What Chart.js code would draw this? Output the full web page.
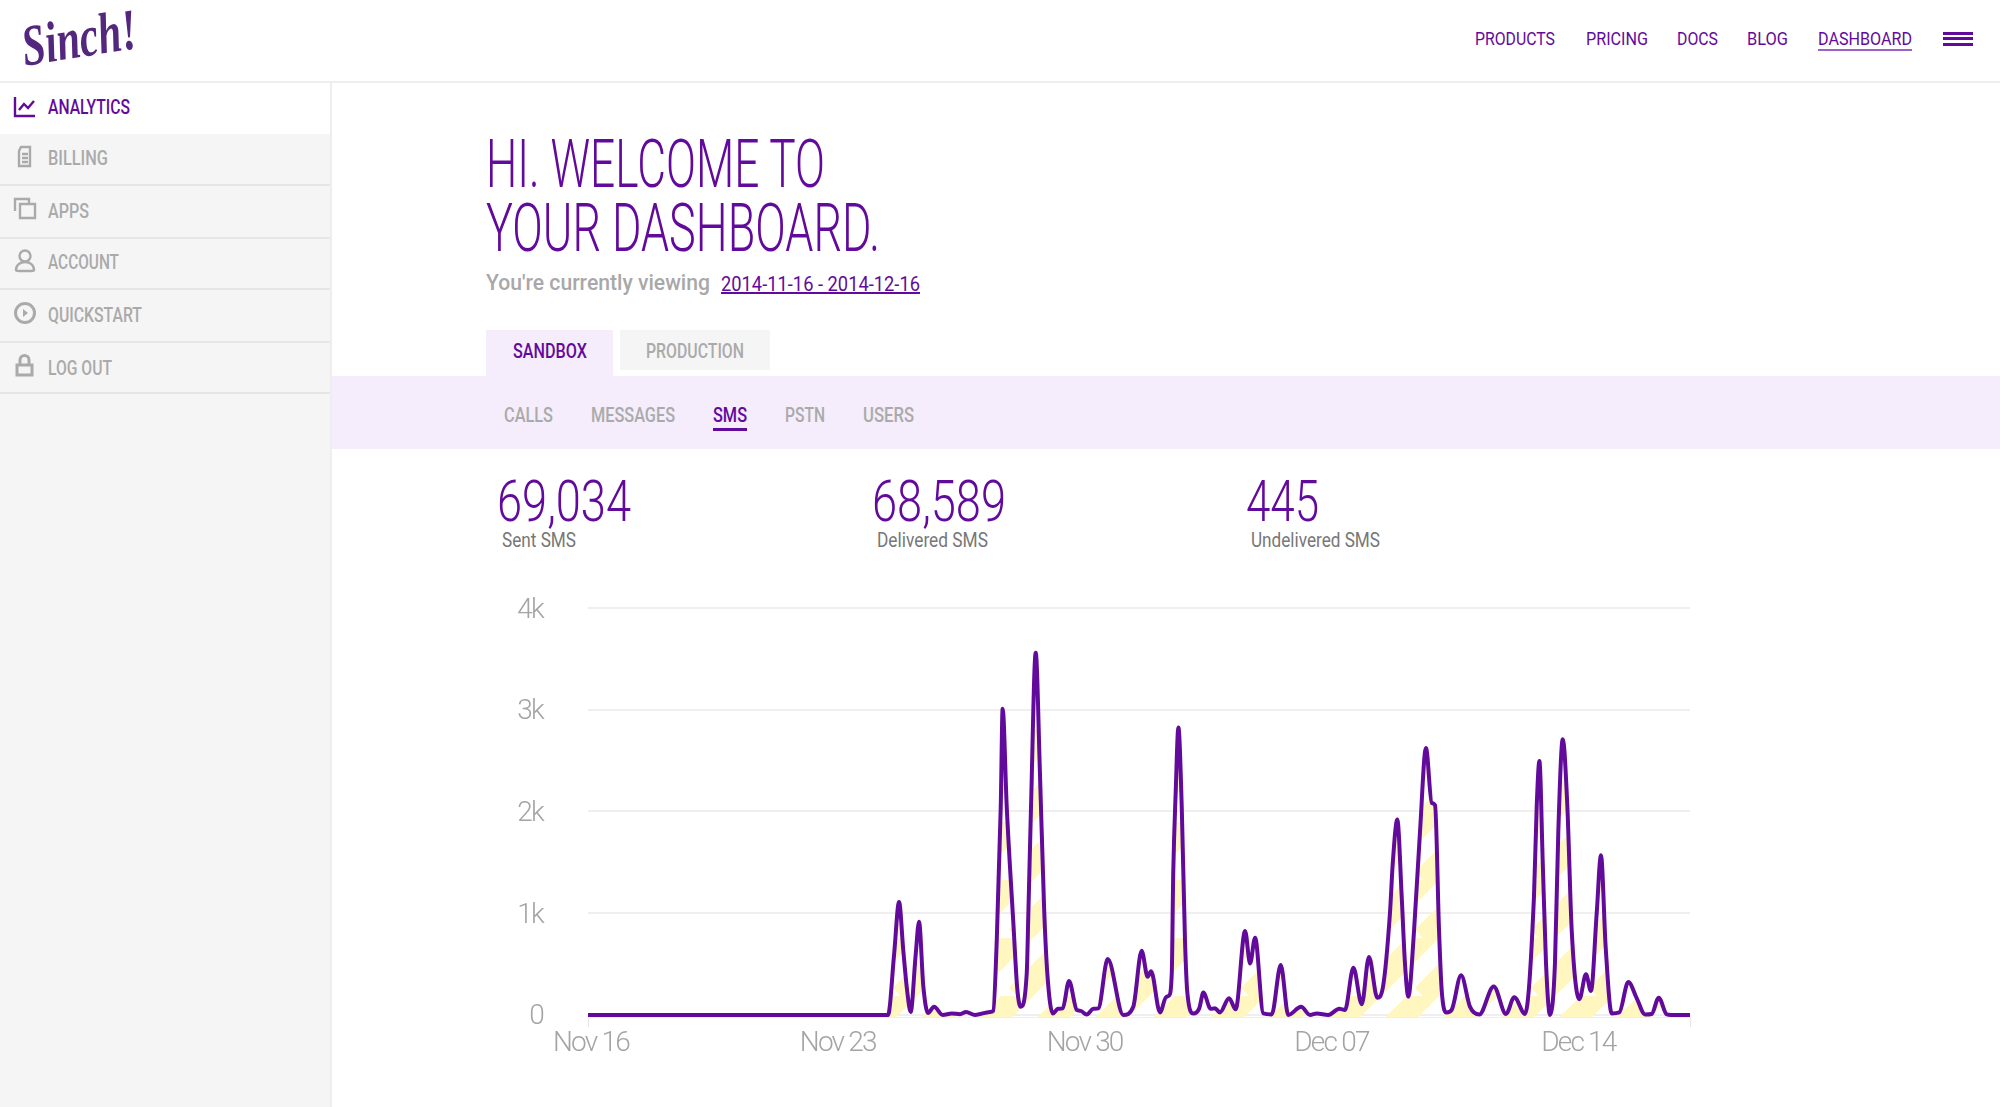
<!DOCTYPE html>
<html>
<head>
<meta charset="utf-8">
<title>Dashboard</title>
<script src="https://cdn.jsdelivr.net/npm/chart.js@4"></script>
<style>
html, body { margin: 0; padding: 0; background: #fff; }
body { width: 2000px; height: 1107px; position: relative; overflow: hidden; font-family: Roboto, sans-serif; color: #aaa; }
.t { position: absolute; white-space: nowrap; transform-origin: 0 50%; line-height: 1; }
.box { position: absolute; }
.p { color: #620a9c; }
.g { color: #aaa; }
svg { position: absolute; fill: none; stroke: #aaa; stroke-width: 2.4; }
#chartBox { position: absolute; left: 480px; top: 590px; width: 1240px; height: 480px; }
</style>
</head>
<body>
<div class="box" style="left:0;top:0;width:2000px;height:81px;border-bottom:2px solid #eee"></div>
<div class="box" style="left:0;top:83px;width:330px;height:1024px;background:#f5f5f5;border-right:2px solid #eee"></div>
<div class="box" style="left:0;top:83px;width:330px;height:51px;background:#fff"></div>
<div class="box" style="left:0;top:184px;width:330px;height:2px;background:#e6e6e6"></div>
<div class="box" style="left:0;top:237px;width:330px;height:2px;background:#e6e6e6"></div>
<div class="box" style="left:0;top:288px;width:330px;height:2px;background:#e6e6e6"></div>
<div class="box" style="left:0;top:341px;width:330px;height:2px;background:#e6e6e6"></div>
<div class="box" style="left:0;top:392px;width:330px;height:2px;background:#e6e6e6"></div>

<span class="t" data-w="116" style="left:22px;top:13px;font:italic bold 58px 'Liberation Serif';color:#54277f;--r:-9deg">Sinch!</span>

<span class="t p" data-w="80" style="left:1475px;top:29px;font-size:19px">PRODUCTS</span>
<span class="t p" data-w="62" style="left:1586px;top:29px;font-size:19px">PRICING</span>
<span class="t p" data-w="41" style="left:1677px;top:29px;font-size:19px">DOCS</span>
<span class="t p" data-w="41" style="left:1747px;top:29px;font-size:19px">BLOG</span>
<span class="t p" data-w="94" style="left:1818px;top:29px;font-size:19px">DASHBOARD</span>
<div class="box" style="left:1818px;top:49px;width:94px;height:2px;background:#9c62c6"></div>
<div class="box" style="left:1943px;top:32px;width:30px;height:3px;background:#620a9c"></div>
<div class="box" style="left:1943px;top:37px;width:30px;height:3px;background:#620a9c"></div>
<div class="box" style="left:1943px;top:43px;width:30px;height:3px;background:#620a9c"></div>

<svg style="left:13px;top:95px;stroke:#620a9c" width="24" height="24"><path d="M2 2V21H22M6 15l5-6 4 4 6-7"/></svg>
<span class="t p" data-w="82" style="left:48px;top:97px;font-size:21px;font-weight:500">ANALYTICS</span>
<svg style="left:16px;top:145px" width="18" height="24"><path d="M5 2h9v19H3V6zM6 9h6M6 13h6M6 17h6"/></svg>
<span class="t g" data-w="60" style="left:48px;top:148px;font-size:21px;font-weight:500">BILLING</span>
<svg style="left:13px;top:197px" width="24" height="24"><path d="M2 14V2h14v4M7 7h15v14H7z"/></svg>
<span class="t g" data-w="41" style="left:48px;top:201px;font-size:21px;font-weight:500">APPS</span>
<svg style="left:14px;top:249px" width="22" height="24"><circle cx="11" cy="7" r="5.5"/><path d="M2 21c0-5 4-8 9-8s9 3 9 8c0 1-2 1-3 1H5c-1 0-3 0-3-1z"/></svg>
<span class="t g" data-w="71" style="left:48px;top:252px;font-size:21px;font-weight:500">ACCOUNT</span>
<svg style="left:13px;top:301px;stroke-width:3" width="24" height="24"><circle cx="12" cy="12" r="9.5"/><path d="M10 8l5 4-5 4z" fill="#aaa" stroke="none"/></svg>
<span class="t g" data-w="94" style="left:48px;top:305px;font-size:21px;font-weight:500">QUICKSTART</span>
<svg style="left:15px;top:354px;stroke-width:3" width="20" height="24"><path d="M2 11h15v10H2zM5 11V6c0-6 9-6 9 0v5"/></svg>
<span class="t g" data-w="64" style="left:48px;top:358px;font-size:21px;font-weight:500">LOG OUT</span>

<span class="t p" data-w="339" style="left:486px;top:132px;font-size:66px;font-weight:340">HI. WELCOME TO</span>
<span class="t p" data-w="394" style="left:486px;top:196px;font-size:66px;font-weight:340">YOUR DASHBOARD.</span>
<span class="t" data-w="224" style="left:486px;top:272px;font-size:22px;font-weight:500;color:#a8a8a8">You're currently viewing</span>
<span class="t p" data-w="199" style="left:721px;top:274px;font-size:20px;text-decoration:underline">2014-11-16 - 2014-12-16</span>

<div class="box" style="left:486px;top:330px;width:127px;height:46px;background:#f5edfb"></div>
<div class="box" style="left:620px;top:330px;width:150px;height:40px;background:#f5f5f5"></div>
<span class="t p" data-w="74" style="left:513px;top:341px;font-size:21px;font-weight:500">SANDBOX</span>
<span class="t g" data-w="98" style="left:646px;top:341px;font-size:21px;font-weight:500">PRODUCTION</span>
<div class="box" style="left:332px;top:376px;width:1668px;height:73px;background:#f5edfb"></div>
<span class="t g" data-w="49" style="left:504px;top:405px;font-size:21px;font-weight:500">CALLS</span>
<span class="t g" data-w="84" style="left:591px;top:405px;font-size:21px;font-weight:500">MESSAGES</span>
<span class="t p" data-w="34" style="left:713px;top:405px;font-size:21px;font-weight:500">SMS</span>
<div class="box" style="left:713px;top:428px;width:34px;height:3px;background:#620a9c"></div>
<span class="t g" data-w="40" style="left:785px;top:405px;font-size:21px;font-weight:500">PSTN</span>
<span class="t g" data-w="51" style="left:863px;top:405px;font-size:21px;font-weight:500">USERS</span>

<span class="t p" data-w="134" style="left:497px;top:472px;font-size:58px;font-weight:340">69,034</span>
<span class="t" data-w="74" style="left:502px;top:530px;font-size:20px;color:#777">Sent SMS</span>
<span class="t p" data-w="134" style="left:872px;top:472px;font-size:58px;font-weight:340">68,589</span>
<span class="t" data-w="111" style="left:877px;top:530px;font-size:20px;color:#777">Delivered SMS</span>
<span class="t p" data-w="73" style="left:1246px;top:472px;font-size:58px;font-weight:340">445</span>
<span class="t" data-w="129" style="left:1251px;top:530px;font-size:20px;color:#777">Undelivered SMS</span>

<div id="chartBox"><canvas id="smsChart" width="1240" height="480"></canvas></div>

<script>
// hours since the start of Nov 16
const smsHours = [0, 204.2, 208.3, 211.7, 214.6, 217.3, 219.6, 223, 225.3, 228.2, 231.4, 235.5, 241.4, 247.5, 253.2, 257.3, 263.4, 273.6, 275.8, 278.2, 280.9, 282.2, 285, 289.5, 292.2, 294.5, 298.6, 299.7, 301.5, 304.7, 307.6, 310.4, 312.6, 316.3, 319.9, 323.1, 327.4, 332.6, 335.3, 339.4, 343.9, 347.3, 353.7, 364.3, 371.1, 376.8, 380.9, 383.2, 389.3, 393.4, 395.4, 397.3, 398.3, 400, 401.8, 404.1, 406.3, 407.9, 412, 416, 418.8, 423.8, 426.7, 430.1, 436.3, 440.8, 447.2, 450.6, 454, 459.6, 465.3, 471.5, 476.6, 485.3, 491.4, 496, 503.8, 511.3, 515.2, 520.9, 526.6, 531.5, 537.2, 541.1, 545.8, 547.7, 550.8, 553.8, 556, 558.3, 562.2, 566.3, 570.3, 574.2, 576.5, 579.2, 581, 584.4, 587.8, 594.2, 600.3, 606.6, 616.4, 624.8, 630.4, 637.7, 643.8, 645.7, 647.5, 649.8, 652, 654.7, 658.1, 660.4, 663.4, 666.5, 669.5, 674.7, 679.2, 682.6, 686.5, 689.4, 692.6, 696.7, 701.9, 708, 713.7, 719.4, 723.9, 728.7, 734.2, 737, 750];
const smsValues = [0, 0, 590, 1110, 630, 225, 30, 590, 915, 285, 20, 80, 0, 15, 8, 30, 0, 30, 40, 735, 2040, 3010, 2040, 900, 250, 80, 410, 1000, 2040, 3560, 2370, 1060, 410, 15, 60, 65, 335, 50, 40, 5, 60, 65, 550, 0, 80, 630, 375, 430, 25, 175, 190, 410, 1390, 2200, 2825, 2040, 735, 220, 15, 65, 220, 60, 65, 25, 165, 55, 825, 505, 760, 15, 5, 490, 0, 80, 0, 15, 0, 60, 50, 465, 105, 570, 170, 280, 1000, 1490, 1920, 1160, 510, 180, 830, 1815, 2625, 2085, 2060, 830, 245, 25, 50, 390, 80, 5, 280, 10, 175, 10, 1160, 2060, 2495, 1490, 510, 0, 510, 1815, 2710, 2060, 830, 155, 400, 235, 1000, 1570, 670, 15, 25, 325, 165, 5, 10, 170, 5, 0, 0];
const yTickValues = [0, 1000, 2000, 3000, 4000];
const yTickLabels = ['0', '1k', '2k', '3k', '4k'];
const xTickHours = [0, 2, 170, 338, 506, 674, 750];
const xTickLabels = ['', 'Nov 16', 'Nov 23', 'Nov 30', 'Dec 07', 'Dec 14', ''];

const tickFont = { family: 'Roboto', size: 28, weight: 300 };

// squeeze the html labels to the measured widths
document.querySelectorAll('.t').forEach((el) => {
    const w = el.getBoundingClientRect().width;
    const r = el.style.getPropertyValue('--r');
    el.style.transform = (r ? 'rotate(' + r + ') ' : '') + 'scaleX(' + (+el.dataset.w / w) + ')';
});

const createStripes = (ctx) => {
    const size = 58;
    const tile = document.createElement('canvas');
    tile.width = size;
    tile.height = size;
    const t = tile.getContext('2d');
    t.strokeStyle = '#fff6c0';
    t.lineWidth = 23;
    [-43, 15, 73, 131].forEach((c) => {
        t.beginPath();
        t.moveTo(c + size, -size);
        t.lineTo(c - size, size);
        t.stroke();
    });
    return ctx.createPattern(tile, 'repeat');
};

// tighter tick text, no condensed face is installed
const tightText = {
    id: 'tightText',
    beforeUpdate: (chart) => { chart.ctx.letterSpacing = '-1.8px'; },
    beforeDraw: (chart) => { chart.ctx.letterSpacing = '-1.8px'; }
};

const canvas = document.getElementById('smsChart');
const smsChart = new Chart(canvas, {
    type: 'line',
    data: {
        datasets: [{
            label: 'SMS',
            data: smsHours.map((h, i) => ({ x: h, y: smsValues[i] })),
            borderColor: '#620a9c',
            borderWidth: 4,
            backgroundColor: createStripes(canvas.getContext('2d')),
            fill: 'start',
            pointRadius: 0,
            cubicInterpolationMode: 'monotone'
        }]
    },
    plugins: [tightText],
    options: {
        animation: false,
        responsive: false,
        layout: { padding: { top: 18, right: 30, left: 0, bottom: 0 } },
        plugins: { legend: { display: false }, tooltip: { enabled: false } },
        scales: {
            x: {
                type: 'linear',
                min: 0,
                max: 750,
                afterBuildTicks: (axis) => { axis.ticks = xTickHours.map((v) => ({ value: v })); },
                afterFit: (axis) => { axis.height = 53; },
                grid: {
                    drawOnChartArea: false,
                    tickLength: 10,
                    color: (c) => (xTickLabels[c.index] === '' ? '#e6e6e6' : 'rgba(0,0,0,0)')
                },
                border: { color: '#eeeeee', width: 1 },
                ticks: {
                    autoSkip: false,
                    maxRotation: 0,
                    padding: 0,
                    color: '#a4a4a4',
                    font: tickFont,
                    callback: (value, index) => xTickLabels[index]
                }
            },
            y: {
                min: -20,
                max: 4000,
                afterBuildTicks: (axis) => { axis.ticks = yTickValues.map((v) => ({ value: v })); },
                afterFit: (axis) => { axis.width = 108; },
                grid: { color: '#efefef', lineWidth: 2, tickLength: 45, tickColor: 'rgba(0,0,0,0)' },
                border: { display: false },
                ticks: {
                    padding: 0,
                    labelOffset: 2.5,
                    color: '#a4a4a4',
                    font: tickFont,
                    callback: (value, index) => yTickLabels[index]
                }
            }
        }
    }
});
</script>
</body>
</html>
